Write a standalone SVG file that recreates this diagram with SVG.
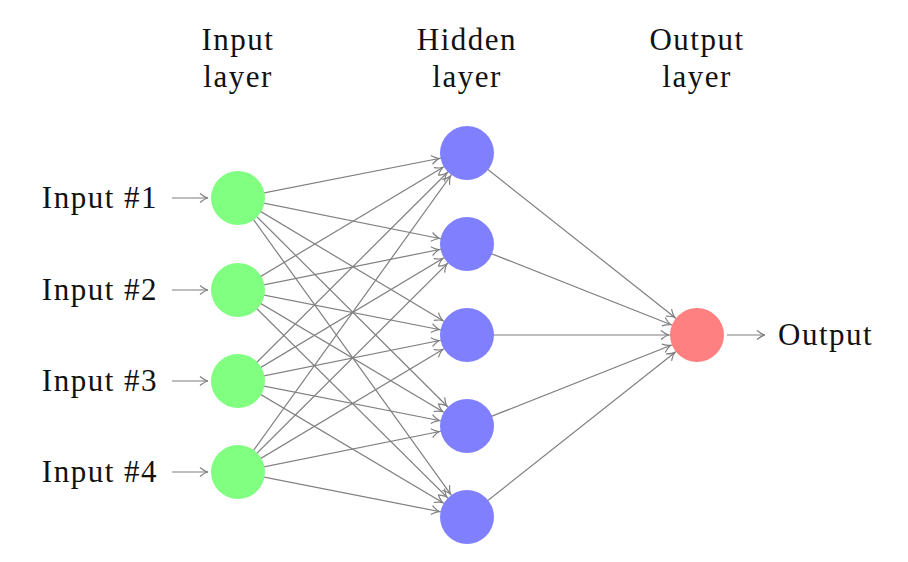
<svg xmlns="http://www.w3.org/2000/svg" width="908" height="562" viewBox="0 0 908 562">
<style>
.e{stroke:#7f7f7f;stroke-width:1.2;fill:none;marker-end:url(#ao)}
.a{stroke:#7f7f7f;stroke-width:1.2;fill:none;marker-end:url(#a0)}
text{font-family:"Liberation Serif","DejaVu Serif",serif;font-size:31px;letter-spacing:1.5px;fill:#111}
.i{fill:#80ff80}.h{fill:#8080ff}.o{fill:#ff8080}
</style>
<defs>
<marker id="ao" markerUnits="userSpaceOnUse" viewBox="-40 -6 42 12" refX="0" refY="0" markerWidth="42" markerHeight="12" orient="auto" overflow="visible"><path d="M-36,-4.5 Q-31,-0.5 -28,0 Q-31,0.5 -36,4.5" stroke="#7f7f7f" stroke-width="1.2" fill="none"/></marker>
<marker id="a0" markerUnits="userSpaceOnUse" viewBox="-10 -6 12 12" refX="0" refY="0" markerWidth="12" markerHeight="12" orient="auto" overflow="visible"><path d="M-8,-4.5 Q-3,-0.5 0,0 Q-3,0.5 -8,4.5" stroke="#7f7f7f" stroke-width="1.2" fill="none"/></marker>
</defs>
<g id="labels" text-anchor="middle">
<text x="238" y="50">Input</text><text x="238" y="87">layer</text>
<text x="467" y="50">Hidden</text><text x="467" y="87">layer</text>
<text x="697" y="50">Output</text><text x="697" y="87">layer</text>
</g>
<g id="connectors">
<path class="a" d="M172,198H208"/><path class="a" d="M172,290H208"/><path class="a" d="M172,381H208"/><path class="a" d="M172,472H208"/><path class="a" d="M727,335H765"/>
<path class="e" d="M238,198L467,153"/><path class="e" d="M238,198L467,244"/><path class="e" d="M238,198L467,335"/><path class="e" d="M238,198L467,426"/><path class="e" d="M238,198L467,517"/>
<path class="e" d="M238,290L467,153"/><path class="e" d="M238,290L467,244"/><path class="e" d="M238,290L467,335"/><path class="e" d="M238,290L467,426"/><path class="e" d="M238,290L467,517"/>
<path class="e" d="M238,381L467,153"/><path class="e" d="M238,381L467,244"/><path class="e" d="M238,381L467,335"/><path class="e" d="M238,381L467,426"/><path class="e" d="M238,381L467,517"/>
<path class="e" d="M238,472L467,153"/><path class="e" d="M238,472L467,244"/><path class="e" d="M238,472L467,335"/><path class="e" d="M238,472L467,426"/><path class="e" d="M238,472L467,517"/>
<path class="e" d="M467,153L697,335"/><path class="e" d="M467,244L697,335"/><path class="e" d="M467,335L697,335"/><path class="e" d="M467,426L697,335"/><path class="e" d="M467,517L697,335"/>
</g>
<g id="in1"><text x="158" y="208" text-anchor="end">Input #1</text><circle class="i" cx="238" cy="198" r="27"/></g>
<g id="in2"><text x="158" y="300" text-anchor="end">Input #2</text><circle class="i" cx="238" cy="290" r="27"/></g>
<g id="in3"><text x="158" y="391" text-anchor="end">Input #3</text><circle class="i" cx="238" cy="381" r="27"/></g>
<g id="in4"><text x="158" y="482" text-anchor="end">Input #4</text><circle class="i" cx="238" cy="472" r="27"/></g>
<g id="h1"><circle class="h" cx="467" cy="153" r="27"/></g>
<g id="h2"><circle class="h" cx="467" cy="244" r="27"/></g>
<g id="h3"><circle class="h" cx="467" cy="335" r="27"/></g>
<g id="h4"><circle class="h" cx="467" cy="426" r="27"/></g>
<g id="h5"><circle class="h" cx="467" cy="517" r="27"/></g>
<g id="out"><circle class="o" cx="697" cy="335" r="27"/><text x="778" y="345">Output</text></g>
</svg>
